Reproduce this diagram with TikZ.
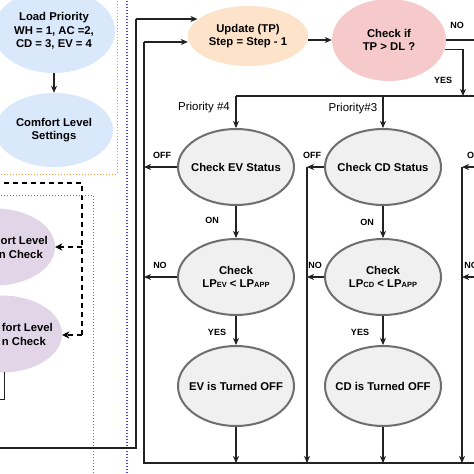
\documentclass[tikz,border=0pt]{standalone}
\usepackage{fontspec}
\setmainfont{Liberation Sans}
\usetikzlibrary{shapes.geometric,arrows.meta}
\definecolor{lblue}{HTML}{DAE8FC}
\definecolor{lpeach}{HTML}{FDE3CA}
\definecolor{lpink}{HTML}{F6CACA}
\definecolor{lpurple}{HTML}{E1D5E7}
\definecolor{lgrey}{HTML}{F0F0F0}
\definecolor{egrey}{HTML}{6E6E6E}
\definecolor{dorange}{HTML}{E8A33D}
\definecolor{dblue}{HTML}{4A4AD0}
\definecolor{dpink}{HTML}{E0457B}
\definecolor{lnc}{HTML}{222222}
\newcommand{\smtxt}[1]{{\fontsize{7.5}{8}\selectfont #1}}
\tikzset{
  txt/.style={font=\fontsize{11.3}{13.5}\selectfont\bfseries, align=center, inner sep=0},
  ell/.style={ellipse, draw=none, txt, inner xsep=-25pt, inner ysep=-8pt},
  bell/.style={ell, fill=lblue},
  pell/.style={ell, fill=lpurple, minimum width=120, minimum height=77},
  gell/.style={ell, fill=lgrey, draw=egrey, line width=2pt, minimum width=116, minimum height=76},
  lab/.style={font=\fontsize{9}{10}\selectfont\bfseries, inner sep=0},
  prio/.style={font=\fontsize{11.5}{13}\selectfont, inner sep=0},
  ln/.style={draw=lnc, line width=1.1pt},
  arr/.style={ln, -{Stealth[length=7pt,width=6pt,inset=2pt]}},
  dsh/.style={draw=black, line width=1.6pt, dash pattern=on 5pt off 4pt},
  dotl/.style={line width=0.9pt, dash pattern=on 1.2pt off 1.8pt}
}
\begin{document}
\begin{tikzpicture}[x=1pt,y=-1pt]
\useasboundingbox (0,0) rectangle (474,474);
\clip (0,0) rectangle (474,474);
\fill[white] (0,0) rectangle (474,474);

% left column
\node[bell, minimum width=122, minimum height=84] (lp) at (54,31) {Load Priority\\WH = 1, AC =2,\\CD = 3, EV = 4};
\node[bell, minimum width=118, minimum height=74] (cls) at (54,130) {Comfort Level\\Settings};
\draw[arr] (lp) -- (cls);

\node[pell] (v1) at (-5,247) {};
\node[txt, anchor=base east] (v1a) at (48,244) {ort Level};
\node[txt, anchor=base east] (v1b) at (43,258) {n Check};
\node[pell] (v2) at (2,334) {};
\node[txt, anchor=base east] (v2a) at (53,331) {fort Level};
\node[txt, anchor=base east] (v2b) at (46,345) {n Check};

\coordinate (s1) at (4,372);
\coordinate (s2) at (4,399);
\coordinate (s3) at (-5,399);
\draw[ln, line width=0.8pt] (s1) -- (s2) -- (s3);

\coordinate (d0) at (-5,183);
\coordinate (d1) at (82,183);
\coordinate (d2) at (82,335);
\coordinate (d3) at (82,247);
\draw[dsh] (d0) -- (d1) -- (d2);
\draw[dsh, -{Stealth[length=7pt,width=7pt,inset=2pt]}] (d3) -- (d3 -| v1.east);
\draw[dsh, -{Stealth[length=7pt,width=7pt,inset=2pt]}] (d2) -- (d2 -| v2.east);

\draw[dotl, draw=dorange] (117,-5) -- (117,174) -- (-5,174);
\draw[dotl, draw=dblue, line width=1.3pt] (127,-5) -- (127,480);
\draw[dotl, draw=dpink] (-5,195) -- (93,195) -- (93,480);

% top row
\node[ell, fill=lpeach, minimum width=120, minimum height=60] (upd) at (248,36) {Update (TP)\\Step = Step - 1};
\node[ell, fill=lpink, minimum width=114, minimum height=82] (chk) at (389,40) {Check if\\TP > DL ?};
\draw[arr] (chk.west -| upd.east) -- (chk.west);

\coordinate (nout) at (484,40);
\draw[arr] (chk.east) -- (nout);
\node[lab] (lno) at (457,25) {NO};
\coordinate (yc) at (463,96);
\draw[arr] (chk.-10) -| (yc);
\node[lab] (lyes) at (443,80) {YES};

% outer loop
\coordinate (o1) at (-5,448);
\coordinate (o2) at (136,448);
\coordinate (o3) at (136,19);
\draw[ln] (o1) -- (o2) -- (o3);
\draw[arr] (o3) -- (o3 -| upd.162);

% inner loop
\coordinate (br) at (484,463);
\coordinate (bl) at (144,463);
\coordinate (tl) at (144,42);
\draw[ln] (br) -- (bl) -- (tl);
\draw[arr] (tl) -- (tl -| upd.west);

% priority line
\coordinate (p0) at (236,96);
\coordinate (p1) at (484,96);
\draw[ln] (p0) -- (p1);
\node[prio] (pr4) at (204,108) {Priority \#4};
\node[prio] (pr3) at (353,109) {Priority\#3};

% EV column
\node[gell] (evs) at (236,167) {Check EV Status};
\node[gell] (evc) at (236,277) {Check\\LP\smtxt{EV} < LP\smtxt{APP}};
\node[gell, minimum height=80] (evo) at (236,386) {EV is Turned OFF};
\draw[arr] (p0) -- (evs);
\draw[arr] (evs) -- (evc);
\draw[arr] (evc) -- (evo);
\draw[arr] (evo) -- (evo |- bl);
\draw[arr] (evs.west) -- (evs.west -| tl);
\draw[arr] (evc.west) -- (evc.west -| tl);
\node[lab] (e1) at (162,155) {OFF};
\node[lab] (e2) at (160,265) {NO};
\node[lab] (e3) at (212,220) {ON};
\node[lab] (e4) at (217,332) {YES};

% CD column
\node[gell] (cds) at (383,167) {Check CD Status};
\node[gell] (cdc) at (383,277) {Check\\LP\smtxt{CD} < LP\smtxt{APP}};
\node[gell, minimum height=80] (cdo) at (383,386) {CD is Turned OFF};
\draw[arr] (p0 -| cds) -- (cds);
\draw[arr] (cds) -- (cdc);
\draw[arr] (cdc) -- (cdo);
\draw[arr] (cdo) -- (cdo |- bl);
\coordinate (m1) at (307,167);
\draw[arr] (m1) -- (m1 |- bl);
\draw[arr] (cds.west) -- (cds.west -| m1);
\draw[arr] (cdc.west) -- (cdc.west -| m1);
\node[lab] (c1) at (312,155) {OFF};
\node[lab] (c2) at (315,265) {NO};
\node[lab] (c3) at (367,222) {ON};
\node[lab] (c4) at (360,332) {YES};

% right column (cut)
\coordinate (r1) at (462,167);
\draw[arr] (r1) -- (r1 |- bl);
\coordinate (ri1) at (484,167);
\coordinate (ri2) at (484,277);
\draw[arr] (ri1) -- (ri1 -| r1);
\draw[arr] (ri2) -- (ri2 -| r1);
\node[lab] (x1) at (476,155) {OFF};
\node[lab] (x2) at (471,265) {NO};
\end{tikzpicture}
\end{document}
